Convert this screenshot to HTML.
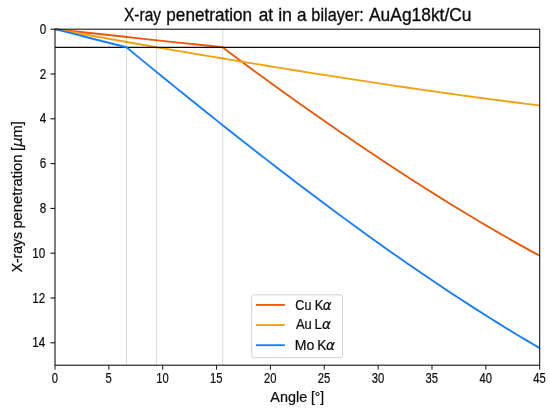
<!DOCTYPE html>
<html><head><meta charset="utf-8"><title>X-ray penetration</title>
<style>
html,body{margin:0;padding:0;background:#fff;}
svg{display:block;}
text{font-family:"Liberation Sans",sans-serif;fill:#0d0d0d;stroke:#0d0d0d;stroke-width:0.22px;}
.ttl{stroke-width:0.32px;}
</style></head><body>
<svg width="550" height="414" viewBox="0 0 550 414">
<rect x="0" y="0" width="550" height="414" fill="#ffffff"/>
<polyline points="55.00,29.20 68.97,30.72 82.95,32.24 96.92,33.76 110.90,35.28 124.88,36.79 138.85,38.30 152.82,39.80 166.80,41.30 180.78,42.80 194.75,44.28 208.72,45.76 222.70,47.23 228.07,51.44 233.45,55.53 238.82,59.56 244.19,63.55 249.56,67.51 254.94,71.44 260.31,75.36 265.68,79.26 271.06,83.14 276.43,87.02 281.80,90.88 287.17,94.72 292.55,98.56 297.92,102.38 303.29,106.18 308.67,109.97 314.04,113.75 319.41,117.51 324.78,121.26 330.16,124.99 335.53,128.71 340.90,132.41 346.28,136.10 351.65,139.77 357.02,143.42 362.39,147.05 367.77,150.67 373.14,154.27 378.51,157.85 383.89,161.42 389.26,164.96 394.63,168.49 400.01,172.00 405.38,175.49 410.75,178.96 416.12,182.41 421.50,185.84 426.87,189.25 432.24,192.64 437.62,196.01 442.99,199.36 448.36,202.69 453.73,205.99 459.11,209.28 464.48,212.54 469.85,215.78 475.23,219.00 480.60,222.19 485.97,225.36 491.34,228.51 496.72,231.64 502.09,234.74 507.46,237.82 512.84,240.87 518.21,243.90 523.58,246.91 528.95,249.89 534.33,252.84 539.70,255.77" fill="none" stroke="#ec5708" stroke-width="1.85" stroke-linejoin="round"/>
<polyline points="55.00,29.20 63.46,30.71 71.92,32.22 80.38,33.73 88.83,35.23 97.29,36.74 105.75,38.25 114.21,39.75 122.67,41.25 131.12,42.75 139.58,44.25 148.04,45.74 156.50,47.23 162.99,48.34 169.49,49.45 175.98,50.56 182.48,51.67 188.97,52.77 195.47,53.87 201.96,54.97 208.46,56.06 214.95,57.15 221.45,58.24 227.94,59.33 234.44,60.41 240.93,61.49 247.43,62.56 253.92,63.64 260.42,64.70 266.91,65.77 273.41,66.83 279.90,67.88 286.40,68.94 292.89,69.98 299.39,71.03 305.88,72.07 312.38,73.10 318.87,74.13 325.37,75.15 331.86,76.17 338.36,77.18 344.85,78.19 351.35,79.20 357.84,80.19 364.34,81.19 370.83,82.17 377.33,83.15 383.82,84.13 390.32,85.10 396.81,86.06 403.31,87.01 409.80,87.96 416.30,88.91 422.79,89.84 429.29,90.77 435.78,91.70 442.28,92.61 448.77,93.52 455.27,94.43 461.76,95.32 468.26,96.21 474.75,97.09 481.25,97.96 487.74,98.83 494.24,99.69 500.73,100.54 507.23,101.38 513.72,102.22 520.22,103.04 526.71,103.86 533.21,104.67 539.70,105.47" fill="none" stroke="#f0a212" stroke-width="1.85" stroke-linejoin="round"/>
<line x1="55.0" y1="47.45" x2="539.7" y2="47.45" stroke="#0a0a0a" stroke-width="1.3"/>
<line x1="126.5" y1="29.2" x2="126.5" y2="365.2" stroke="#000000" stroke-opacity="0.145" stroke-width="1"/>
<line x1="156.5" y1="29.2" x2="156.5" y2="365.2" stroke="#000000" stroke-opacity="0.145" stroke-width="1"/>
<line x1="222.7" y1="29.2" x2="222.7" y2="365.2" stroke="#000000" stroke-opacity="0.145" stroke-width="1"/>
<polyline points="55.00,29.20 60.96,30.71 66.92,32.21 72.88,33.72 78.83,35.22 84.79,36.73 90.75,38.23 96.71,39.73 102.67,41.24 108.62,42.74 114.58,44.24 120.54,45.74 126.50,47.23 133.50,53.11 140.51,58.90 147.51,64.65 154.51,70.36 161.52,76.06 168.52,81.74 175.52,87.40 182.53,93.06 189.53,98.69 196.53,104.32 203.54,109.93 210.54,115.52 217.54,121.10 224.55,126.66 231.55,132.20 238.55,137.72 245.56,143.23 252.56,148.71 259.56,154.17 266.57,159.62 273.57,165.04 280.57,170.44 287.58,175.81 294.58,181.16 301.58,186.49 308.59,191.79 315.59,197.06 322.59,202.31 329.60,207.53 336.60,212.72 343.61,217.88 350.61,223.01 357.61,228.11 364.62,233.19 371.62,238.23 378.62,243.24 385.63,248.21 392.63,253.15 399.63,258.06 406.64,262.93 413.64,267.77 420.64,272.57 427.65,277.34 434.65,282.07 441.65,286.76 448.66,291.41 455.66,296.02 462.66,300.60 469.67,305.13 476.67,309.62 483.67,314.07 490.68,318.48 497.68,322.85 504.68,327.17 511.69,331.45 518.69,335.69 525.69,339.88 532.70,344.02 539.70,348.12" fill="none" stroke="#127dff" stroke-width="1.85" stroke-linejoin="round"/>
<rect x="55.0" y="29.2" width="484.70" height="336.00" fill="none" stroke="#141414" stroke-width="1.1"/>
<line x1="55.00" y1="365.2" x2="55.00" y2="369.7" stroke="#141414" stroke-width="1.0"/>
<text transform="translate(54.80,382.9) scale(0.8034,1)" font-size="14.0" text-anchor="middle">0</text>
<line x1="108.86" y1="365.2" x2="108.86" y2="369.7" stroke="#141414" stroke-width="1.0"/>
<text transform="translate(108.66,382.9) scale(0.8034,1)" font-size="14.0" text-anchor="middle">5</text>
<line x1="162.71" y1="365.2" x2="162.71" y2="369.7" stroke="#141414" stroke-width="1.0"/>
<text transform="translate(162.51,382.9) scale(0.8034,1)" font-size="14.0" text-anchor="middle">10</text>
<line x1="216.57" y1="365.2" x2="216.57" y2="369.7" stroke="#141414" stroke-width="1.0"/>
<text transform="translate(216.37,382.9) scale(0.8034,1)" font-size="14.0" text-anchor="middle">15</text>
<line x1="270.42" y1="365.2" x2="270.42" y2="369.7" stroke="#141414" stroke-width="1.0"/>
<text transform="translate(270.22,382.9) scale(0.8034,1)" font-size="14.0" text-anchor="middle">20</text>
<line x1="324.28" y1="365.2" x2="324.28" y2="369.7" stroke="#141414" stroke-width="1.0"/>
<text transform="translate(324.08,382.9) scale(0.8034,1)" font-size="14.0" text-anchor="middle">25</text>
<line x1="378.13" y1="365.2" x2="378.13" y2="369.7" stroke="#141414" stroke-width="1.0"/>
<text transform="translate(377.93,382.9) scale(0.8034,1)" font-size="14.0" text-anchor="middle">30</text>
<line x1="431.99" y1="365.2" x2="431.99" y2="369.7" stroke="#141414" stroke-width="1.0"/>
<text transform="translate(431.79,382.9) scale(0.8034,1)" font-size="14.0" text-anchor="middle">35</text>
<line x1="485.84" y1="365.2" x2="485.84" y2="369.7" stroke="#141414" stroke-width="1.0"/>
<text transform="translate(485.64,382.9) scale(0.8034,1)" font-size="14.0" text-anchor="middle">40</text>
<line x1="539.70" y1="365.2" x2="539.70" y2="369.7" stroke="#141414" stroke-width="1.0"/>
<text transform="translate(539.50,382.9) scale(0.8034,1)" font-size="14.0" text-anchor="middle">45</text>
<line x1="50.5" y1="29.20" x2="55.0" y2="29.20" stroke="#141414" stroke-width="1.1"/>
<text transform="translate(46.2,33.75) scale(0.8351,1)" font-size="14.0" text-anchor="end">0</text>
<line x1="50.5" y1="74.00" x2="55.0" y2="74.00" stroke="#141414" stroke-width="1.1"/>
<text transform="translate(46.2,78.55) scale(0.8351,1)" font-size="14.0" text-anchor="end">2</text>
<line x1="50.5" y1="118.80" x2="55.0" y2="118.80" stroke="#141414" stroke-width="1.1"/>
<text transform="translate(46.2,123.35) scale(0.8351,1)" font-size="14.0" text-anchor="end">4</text>
<line x1="50.5" y1="163.60" x2="55.0" y2="163.60" stroke="#141414" stroke-width="1.1"/>
<text transform="translate(46.2,168.15) scale(0.8351,1)" font-size="14.0" text-anchor="end">6</text>
<line x1="50.5" y1="208.40" x2="55.0" y2="208.40" stroke="#141414" stroke-width="1.1"/>
<text transform="translate(46.2,212.95) scale(0.8351,1)" font-size="14.0" text-anchor="end">8</text>
<line x1="50.5" y1="253.20" x2="55.0" y2="253.20" stroke="#141414" stroke-width="1.1"/>
<text transform="translate(45.3,257.75) scale(0.8351,1)" font-size="14.0" text-anchor="end">10</text>
<line x1="50.5" y1="298.00" x2="55.0" y2="298.00" stroke="#141414" stroke-width="1.1"/>
<text transform="translate(45.3,302.55) scale(0.8351,1)" font-size="14.0" text-anchor="end">12</text>
<line x1="50.5" y1="342.80" x2="55.0" y2="342.80" stroke="#141414" stroke-width="1.1"/>
<text transform="translate(45.3,347.35) scale(0.8351,1)" font-size="14.0" text-anchor="end">14</text>
<rect x="251.7" y="294.8" width="90.9" height="62.8" rx="2.2" ry="2.2" fill="#ffffff" fill-opacity="0.8" stroke="#d2d2d2" stroke-width="1"/>
<line x1="255.9" y1="304.90" x2="284.9" y2="304.90" stroke="#ec5708" stroke-width="1.85"/>
<line x1="255.9" y1="325.05" x2="284.9" y2="325.05" stroke="#f0a212" stroke-width="1.85"/>
<line x1="255.9" y1="345.20" x2="284.9" y2="345.20" stroke="#127dff" stroke-width="1.85"/>
<text class="ttl" transform="translate(123.96,21.4) scale(0.8714,1)" font-size="17.8">X-ray</text>
<text class="ttl" transform="translate(166.32,21.4) scale(0.9637,1)" font-size="17.8">penetration</text>
<text class="ttl" transform="translate(258.67,21.4) scale(0.9714,1)" font-size="17.8">at</text>
<text class="ttl" transform="translate(278.14,21.4) scale(1.0087,1)" font-size="17.8">in</text>
<text class="ttl" transform="translate(296.88,21.4) scale(0.9644,1)" font-size="17.8">a</text>
<text class="ttl" transform="translate(311.37,21.4) scale(0.9153,1)" font-size="17.8">bilayer:</text>
<text class="ttl" transform="translate(369.00,21.4) scale(0.9776,1)" font-size="17.8">AuAg18kt/Cu</text>
<text transform="translate(270.30,402.2) scale(1.0233,1)" font-size="14.1">Angle</text>
<text transform="translate(310.93,402.2) scale(0.9739,1)" font-size="14.1">[°]</text>
<text transform="translate(21.6,272.37) rotate(-90) scale(0.9881,1)" font-size="14.1">X-rays</text>
<text transform="translate(21.6,228.62) rotate(-90) scale(1.0516,1)" font-size="14.1">penetration</text>
<text transform="translate(21.6,150.95) rotate(-90) scale(1.0453,1)" font-size="14.1">[<tspan font-family="DejaVu Sans, sans-serif" font-style="italic">μ</tspan>m]</text>
<text transform="translate(295.33,309.6) scale(0.8985,1)" font-size="14.0">Cu</text>
<text transform="translate(314.66,309.6) scale(0.9250,1)" font-size="14.0">K</text>
<text transform="translate(322.80,309.6) scale(0.9552,1)" font-size="14.0"><tspan font-family="DejaVu Sans, sans-serif" font-style="italic">α</tspan></text>
<text transform="translate(295.88,329.4) scale(0.9302,1)" font-size="14.0">Au</text>
<text transform="translate(314.62,329.4) scale(0.9600,1)" font-size="14.0">L</text>
<text transform="translate(321.89,329.4) scale(0.9791,1)" font-size="14.0"><tspan font-family="DejaVu Sans, sans-serif" font-style="italic">α</tspan></text>
<text transform="translate(294.77,349.5) scale(1.0085,1)" font-size="14.0">Mo</text>
<text transform="translate(317.30,349.5) scale(0.9750,1)" font-size="14.0">K</text>
<text transform="translate(325.89,349.5) scale(0.9791,1)" font-size="14.0"><tspan font-family="DejaVu Sans, sans-serif" font-style="italic">α</tspan></text>
</svg>
</body></html>
